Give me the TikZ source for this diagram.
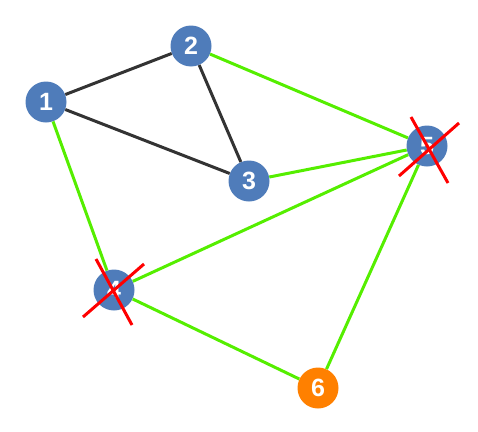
\documentclass[tikz,border=0pt]{standalone}
\usepackage{fontspec}
\setsansfont{Liberation Sans}
\definecolor{nodeblue}{HTML}{4F7CBA}
\definecolor{nodeorange}{HTML}{FF8000}
\definecolor{edgegreen}{HTML}{55EE00}
\definecolor{edgedark}{HTML}{333333}
\tikzset{
  vertex/.style={circle,fill=nodeblue,minimum size=41pt,inner sep=0pt,text=white,font=\sffamily\bfseries\fontsize{25}{25}\selectfont},
  source/.style={vertex,fill=nodeorange},
  kept/.style={draw=edgedark,line width=3pt},
  cut/.style={draw=edgegreen,line width=3pt},
  cross/.style={draw=red,line width=3pt}
}
\begin{document}
\begin{tikzpicture}[x=1pt,y=-1pt]
\useasboundingbox (0,0) rectangle (478,431);
\node[vertex] (1) at (46,102) {1};
\node[vertex] (2) at (191,46) {2};
\node[vertex] (3) at (249,181) {3};
\node[vertex] (4) at (114,290) {4};
\node[vertex] (5) at (427,146) {5};
\node[source] (6) at (318,388) {6};
\path[kept](1) edge (2);
\path[kept](1) edge (3);
\path[kept](2) edge (3);
\path[cut](2) edge (5);
\path[cut](3) edge (5);
\path[cut](4) edge (5);
\path[cut](1) edge (4);
\path[cut](4) edge (6);
\path[cut](5) edge (6);
\draw[cross] ([shift={(-16,-29)}]5.center) -- ([shift={(21,37)}]5.center);
\draw[cross] ([shift={(-28,30)}]5.center) -- ([shift={(32,-23)}]5.center);
\draw[cross] ([shift={(-18,-31)}]4.center) -- ([shift={(18,35)}]4.center);
\draw[cross] ([shift={(-31,27)}]4.center) -- ([shift={(30,-26)}]4.center);
\end{tikzpicture}
\end{document}
